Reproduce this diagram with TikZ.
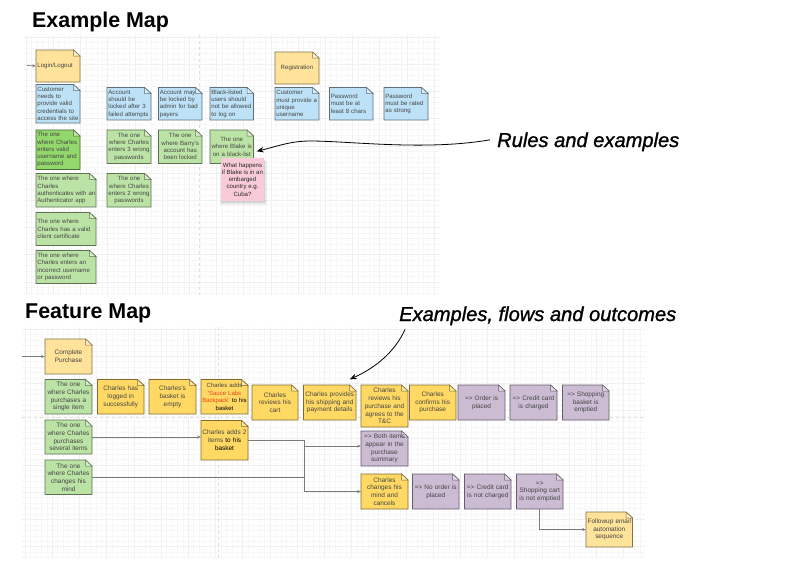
\documentclass[tikz,border=0pt]{standalone}
\usepackage{fontspec}
\setmainfont{Liberation Sans}
\usetikzlibrary{arrows.meta,calc}
\definecolor{cLight}{HTML}{FFE39A}
\definecolor{cYellow}{HTML}{FFD963}
\definecolor{cBlue}{HTML}{BDE2F7}
\definecolor{cGreen}{HTML}{BCE3A6}
\definecolor{cDark}{HTML}{93D86C}
\definecolor{cPurple}{HTML}{CBBBD3}
\definecolor{cPink}{HTML}{F9CBD9}
\definecolor{cRed}{HTML}{E8431A}
\definecolor{cText}{HTML}{454545}
\tikzset{
  gridminor/.style={draw=black!3,line width=.35pt},
  gridmajor/.style={draw=black!6,line width=.5pt},
  guide/.style={draw=black!13,line width=.9pt,dash pattern=on 3pt off 3pt},
  titletext/.style={font=\fontsize{21.4}{24}\selectfont\bfseries,inner sep=0pt,anchor=base west,text=black},
  calltext/.style={font=\fontsize{20.1}{24}\selectfont\itshape\addfontfeature{FakeBold=1.2},inner sep=0pt,anchor=base west,text=black},
  notebody/.style={line width=.85pt,line join=miter},
  notetext/.style={inner ysep=0pt,inner xsep=.6pt,text=cText},
  small/.style={font=\fontsize{6.1}{7.3}\selectfont},
  large/.style={font=\fontsize{6.45}{7.7}\selectfont},
  tight/.style={font=\fontsize{6}{7.7}\selectfont},
  lft/.style={align=left,xshift=.8pt},
  link/.style={draw=black!52,line width=.7pt,-{Stealth[length=3.6pt,width=3pt]}},
  linkplain/.style={draw=black!52,line width=.7pt},
  callout/.style={draw=black,line width=.8pt,-{Stealth[length=7pt,width=5.5pt]}},
}
% name, colour, x1, y1, x2, y2, node options, text
\newcommand\stick[8]{%
  \pgfmathsetmacro\sx{(#3+#5)/2}\pgfmathsetmacro\sy{(#4+#6)/2}%
  \pgfmathsetmacro\sw{#5-#3}\pgfmathsetmacro\sh{#6-#4}\pgfmathsetmacro\st{#5-#3-1.2}%
  \pgfmathsetmacro\fa{#5-6.5}\pgfmathsetmacro\fb{#4+6}%
  \draw[notebody,fill=#2,draw=#2!50!black] (#3,#4) -- (\fa,#4) -- (#5,\fb) -- (#5,#6) -- (#3,#6) -- cycle;
  \draw[line width=.5pt,fill=#2!60!white,draw=#2!50!black] (\fa,#4) -- (\fa,\fb) -- (#5,\fb) -- cycle;
  \node[notetext,text width=\st pt,minimum width=\sw pt,minimum height=\sh pt,#7] (#1) at (\sx,\sy) {#8};
}
\begin{document}
\begin{tikzpicture}[x=1pt,y=-1pt]
\useasboundingbox (0,0) rectangle (800,563);
\fill[white] (0,0) rectangle (800,563);
% grids
\foreach \g in {0,...,75} {\pgfmathsetmacro\p{26+5.44*\g}\draw[gridminor] (\p,35) -- (\p,295);}
\foreach \g in {0,...,47} {\pgfmathsetmacro\p{37+5.44*\g}\draw[gridminor] (24,\p) -- (440,\p);}
\foreach \g in {0,...,15} {\pgfmathsetmacro\p{26+27.2*\g}\draw[gridmajor] (\p,35) -- (\p,295);}
\foreach \g in {0,...,9} {\pgfmathsetmacro\p{37+27.2*\g}\draw[gridmajor] (24,\p) -- (440,\p);}
\foreach \g in {0,...,113} {\pgfmathsetmacro\p{25+5.44*\g}\draw[gridminor] (\p,327) -- (\p,558);}
\foreach \g in {0,...,42} {\pgfmathsetmacro\p{329+5.44*\g}\draw[gridminor] (22,\p) -- (645,\p);}
\foreach \g in {0,...,22} {\pgfmathsetmacro\p{25+27.2*\g}\draw[gridmajor] (\p,327) -- (\p,558);}
\foreach \g in {0,...,8} {\pgfmathsetmacro\p{329+27.2*\g}\draw[gridmajor] (22,\p) -- (645,\p);}
\draw[guide] (199,35) -- (199,295);
\draw[guide] (218,327) -- (218,558);
\draw[guide] (22,417) -- (645,417);
% titles
\node[titletext] (t1) at (32,27) {Example Map};
\node[titletext] (t2) at (25,318) {Feature Map};
\node[calltext] (rules) at (497,147) {Rules and examples};
\node[calltext] (flows) at (399,321) {Examples, flows and outcomes};
% example map
\stick{login}{cLight}{36}{50}{80}{82}{small,lft}{Login/Logout}
\stick{cust}{cBlue}{36}{84.5}{80}{123}{small,lft}{Customer\\needs to\\provide valid\\credentials to\\access the site}
\stick{acc}{cBlue}{107}{87.5}{151}{120}{small,lft}{Account\\should be\\locked after 3\\failed attempts}
\stick{accb}{cBlue}{158.5}{87.5}{202}{120}{small,lft}{Account may\\be locked by\\admin for bad\\payers}
\stick{black}{cBlue}{210}{87.5}{253.5}{120}{small,lft}{Black-listed\\users should\\not be allowed\\to log on}
\stick{reg}{cLight}{275}{52}{319}{84}{small,align=center}{Registration}
\stick{must}{cBlue}{275}{87.5}{319}{120}{small,lft}{Customer\\must provide a\\unique\\username}
\stick{pw}{cBlue}{329.5}{87.5}{373}{120}{small,lft}{Password\\must be at\\least 8 chars}
\stick{pwr}{cBlue}{384}{87.5}{428}{120}{small,lft}{Password\\must be rated\\as strong}
\stick{valid}{cDark}{36}{130}{80}{169.5}{small,lft}{The one\\where Charles\\enters valid\\username and\\password}
\stick{three}{cGreen}{107}{130}{151}{163.5}{small,align=center}{The one\\where Charles\\enters 3 wrong\\passwords}
\stick{barry}{cGreen}{158.5}{130}{202}{163.5}{small,align=center}{The one\\where Barry's\\account has\\been locked}
\stick{blake}{cGreen}{210}{130}{253.5}{163.5}{small,align=center}{The one\\where Blake is\\on a black-list}
\stick{auth}{cGreen}{36}{173.5}{96}{207}{small,lft}{The one where\\Charles\\authenticates with an\\Authenticator app}
\stick{two}{cGreen}{107}{173.5}{151}{207}{small,align=center}{The one\\where Charles\\enters 2 wrong\\passwords}
\stick{cert}{cGreen}{36}{212.5}{96}{245.5}{small,lft}{The one where\\Charles has a valid\\client certificate}
\stick{wrong}{cGreen}{36}{250.5}{96}{283.5}{small,lft}{The one where\\Charles enters an\\incorrect username\\or password}
% pink sticky
\fill[black,opacity=.07] (219.5,161) rectangle (266.5,205);
\fill[black,opacity=.1] (221,160) rectangle (265,203);
\node[fill=cPink,minimum width=43pt,minimum height=43pt,inner sep=0pt,small,align=center,text=black!85] (pink) at (242.5,179.5) {What happens\\if Blake is in an\\embarged\\country e.g.\\Cuba?};
% feature map
\stick{complete}{cLight}{45}{339}{92}{374}{large,align=center}{Complete\\Purchase}
\stick{single}{cGreen}{45}{379.5}{92}{414}{large,align=center}{The one\\where Charles\\purchases a\\single item}
\stick{logged}{cYellow}{97.5}{379.5}{144}{414}{large,align=center}{Charles has\\logged in\\successfully}
\stick{empty}{cYellow}{149}{379.5}{196}{414}{large,align=center}{Charles's\\basket is\\empty}
\stick{adds}{cYellow}{201}{379.5}{248}{414}{large,align=center}{\fontsize{6}{7.7}\selectfont Charles adds\\{\color{cRed}'Sauce Labs\\Backpack'} {\color{black}to his\\basket}}
\stick{cart}{cYellow}{252}{385}{298}{420}{large,align=center}{Charles\\reviews his\\cart}
\stick{ship}{cYellow}{303.5}{385}{356}{420}{large,align=center}{Charles provides\\his shipping and\\payment details}
\stick{agree}{cYellow}{361}{385}{408}{427}{large,align=center}{Charles\\reviews his\\purchase and\\agrees to the\\T\&C}
\stick{confirm}{cYellow}{409.5}{385}{456}{420}{large,align=center}{Charles\\confirms his\\purchase}
\stick{order}{cPurple}{458}{385}{505}{420}{large,align=center}{=> Order is\\placed}
\stick{charged}{cPurple}{510}{385}{557}{420}{large,align=center}{=> Credit card\\is charged}
\stick{emptied}{cPurple}{562.5}{385}{609}{420}{large,align=center}{=> Shopping\\basket is\\emptied}
\stick{several}{cGreen}{45}{420}{92}{454}{large,align=center}{The one\\where Charles\\purchases\\several items}
\stick{addstwo}{cYellow}{201}{420.5}{248}{460}{large,align=center}{Charles adds 2\\items {\color{black}to his\\basket}}
\stick{mind}{cGreen}{45}{460}{92}{494.5}{large,align=center}{The one\\where Charles\\changes his\\mind}
\stick{both}{cPurple}{361}{431}{408}{466}{large,align=center}{=> Both items\\appear in the\\purchase\\summary}
\stick{cancel}{cYellow}{361}{474}{408}{509}{large,align=center}{Charles\\changes his\\mind and\\cancels}
\stick{noorder}{cPurple}{412.5}{474}{459}{509}{large,align=center}{=> No order is\\placed}
\stick{notcharged}{cPurple}{464.5}{474}{511}{509}{large,align=center}{=> Credit card\\is not charged}
\stick{notemptied}{cPurple}{516.5}{474}{563}{509}{large,align=center}{=>\\Shopping cart\\is not emptied}
\stick{follow}{cLight}{586}{512}{632.5}{547}{large,align=center}{Followup email\\automation\\sequence}
% connectors
\coordinate (loginin) at (27,65.5);
\coordinate (completein) at (22,356.5);
\coordinate (bus) at (304,460);
\draw[link] (loginin) -- ([xshift=-.8pt]login.west);
\draw[link] (completein) -- (complete.west);
\draw[link] (several.east) -- (several.east -| addstwo.west);
\draw[link] (addstwo.east) -- (addstwo.east -| bus) -- ([yshift=2.5pt]bus |- both.west) -- ([yshift=2.5pt]both.west);
\draw[linkplain] ([yshift=2.5pt]bus |- both.west) -- (bus |- cancel.west);
\draw[link] (mind.east) -- (mind.east -| bus) -- (bus |- cancel.west) -- (cancel.west);
\draw[link] (notemptied.south) -- (notemptied.south |- follow.west) -- (follow.west);
\draw[callout] ([xshift=-7pt,yshift=2pt]rules.west) .. controls (425,151) and (350,141) .. (310,141) .. controls (290,141) and (275,147) .. ([xshift=3pt,yshift=-4.5pt]blake.east);
\draw[callout] ([xshift=6pt,yshift=-4pt]flows.south west) .. controls (395,352) and (375,368) .. ([xshift=20pt,yshift=5.5pt]ship.north);
\end{tikzpicture}
\end{document}
